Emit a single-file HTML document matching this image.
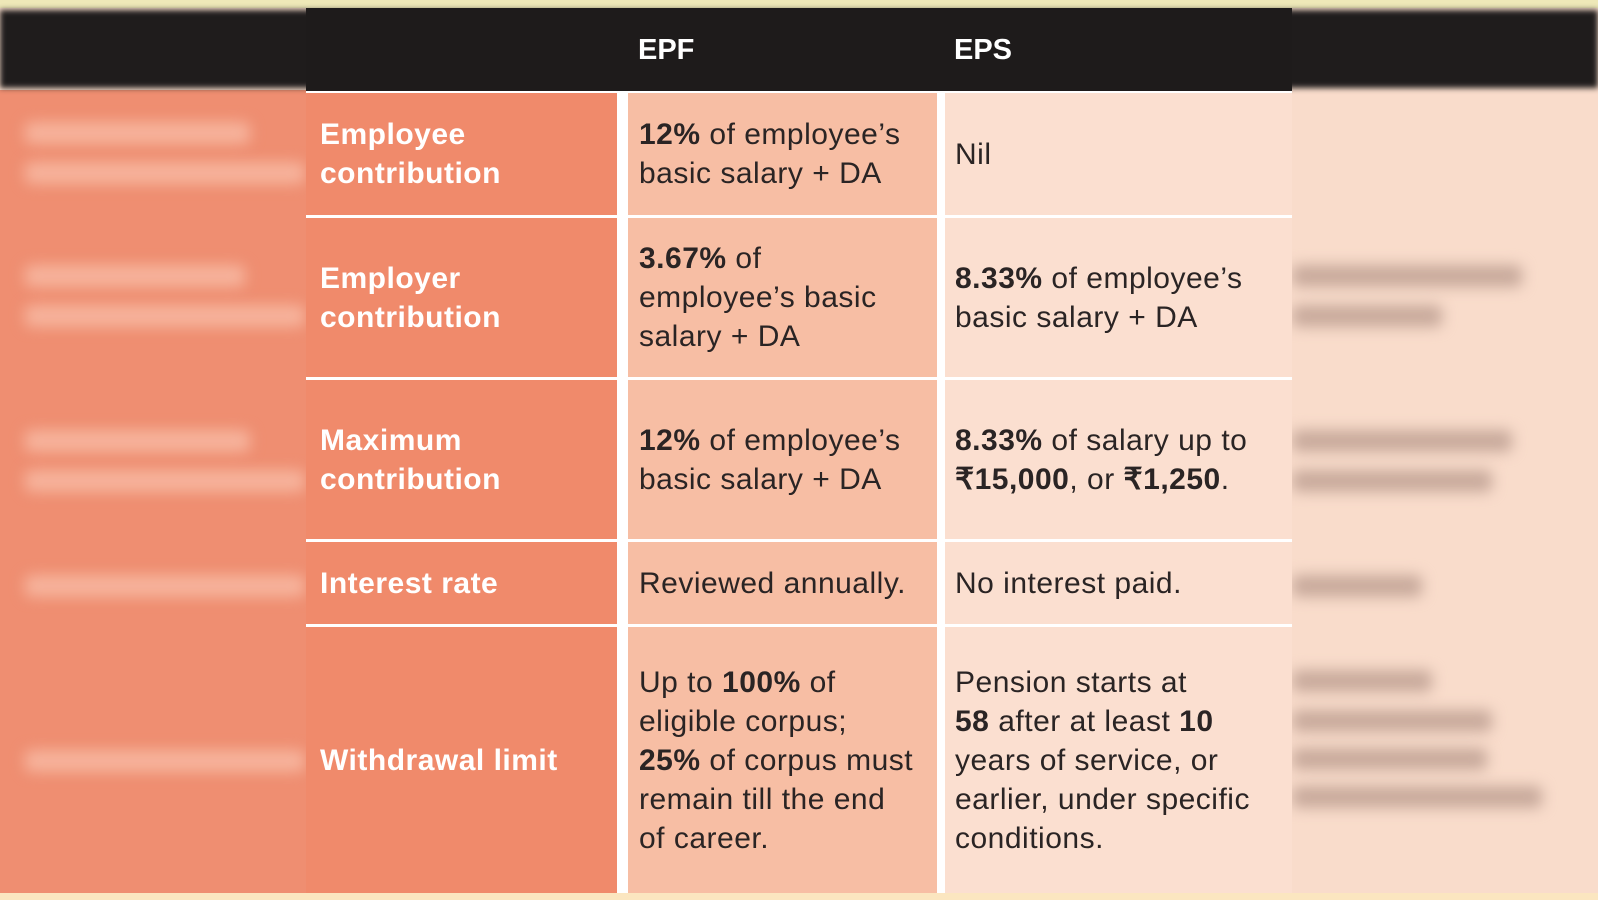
<!DOCTYPE html>
<html><head><meta charset="utf-8">
<style>
*{margin:0;padding:0;box-sizing:border-box}
body{width:1598px;height:900px;overflow:hidden;background:#f7dccb;font-family:"Liberation Sans",sans-serif;position:relative}
.abs{position:absolute}
.cell{position:absolute;display:flex;align-items:center;font-size:30px;line-height:39px;color:#2a2424;letter-spacing:0.5px;white-space:nowrap}
.c1{left:306px;width:311px;background:#f08a6b;color:#fff;font-weight:bold;padding-left:14px}
.c2{left:628px;width:309px;background:#f7bea4;padding-left:11px}
.c3{left:945px;width:347px;background:#fbdfd0;padding-left:10px;padding-right:4px}
.blur{position:absolute;filter:blur(7px);border-radius:6px}
</style></head><body>
<div class="abs" style="left:0;top:0;width:1598px;height:8px;background:#eee8b8"></div>
<div class="abs" style="left:0;top:893px;width:1598px;height:7px;background:#fbe6c0"></div>
<div class="abs" style="left:0;top:90px;width:306px;height:803px;background:#ef8e71"></div>
<div class="abs" style="left:1292px;top:90px;width:306px;height:803px;background:#f9dccb"></div>
<div class="abs" style="left:0;top:10px;width:1598px;height:78px;background:#1f1c1c;filter:blur(3px)"></div>
<div class="blur" style="left:25px;top:122px;width:225px;height:22px;background:#f6b39c"></div>
<div class="blur" style="left:25px;top:162px;width:280px;height:22px;background:#f6b39c"></div>
<div class="blur" style="left:25px;top:265px;width:220px;height:22px;background:#f6b39c"></div>
<div class="blur" style="left:25px;top:305px;width:280px;height:22px;background:#f6b39c"></div>
<div class="blur" style="left:25px;top:430px;width:225px;height:22px;background:#f6b39c"></div>
<div class="blur" style="left:25px;top:470px;width:280px;height:22px;background:#f6b39c"></div>
<div class="blur" style="left:25px;top:575px;width:280px;height:22px;background:#f6b39c"></div>
<div class="blur" style="left:25px;top:750px;width:280px;height:22px;background:#f6b39c"></div>
<div class="blur" style="left:1292px;top:265px;width:230px;height:22px;background:#c8aa9c"></div>
<div class="blur" style="left:1292px;top:305px;width:150px;height:22px;background:#c8aa9c"></div>
<div class="blur" style="left:1292px;top:430px;width:220px;height:22px;background:#c8aa9c"></div>
<div class="blur" style="left:1292px;top:470px;width:200px;height:22px;background:#c8aa9c"></div>
<div class="blur" style="left:1292px;top:575px;width:130px;height:22px;background:#c8aa9c"></div>
<div class="blur" style="left:1292px;top:670px;width:140px;height:22px;background:#c8aa9c"></div>
<div class="blur" style="left:1292px;top:710px;width:200px;height:22px;background:#c8aa9c"></div>
<div class="blur" style="left:1292px;top:748px;width:195px;height:22px;background:#c8aa9c"></div>
<div class="blur" style="left:1292px;top:786px;width:250px;height:22px;background:#c8aa9c"></div>

<div class="abs" style="left:306px;top:8px;width:986px;height:885px;background:#fff"></div>
<div class="abs" style="left:306px;top:8px;width:986px;height:83px;background:#1e1b1b;color:#fff;font-weight:bold;font-size:29px">
  <span class="abs" style="left:332px;top:26px">EPF</span>
  <span class="abs" style="left:648px;top:26px">EPS</span>
</div>

<div class="cell c1" style="top:93px;height:122px">Employee<br>contribution</div>
<div class="cell c2" style="top:93px;height:122px"><div><b>12%</b> of employee’s<br>basic salary + DA</div></div>
<div class="cell c3" style="top:93px;height:122px">Nil</div>

<div class="cell c1" style="top:218px;height:159px">Employer<br>contribution</div>
<div class="cell c2" style="top:218px;height:159px"><div><b>3.67%</b> of<br>employee’s basic<br>salary + DA</div></div>
<div class="cell c3" style="top:218px;height:159px"><div><b>8.33%</b> of employee’s<br>basic salary + DA</div></div>

<div class="cell c1" style="top:380px;height:159px">Maximum<br>contribution</div>
<div class="cell c2" style="top:380px;height:159px"><div><b>12%</b> of employee’s<br>basic salary + DA</div></div>
<div class="cell c3" style="top:380px;height:159px"><div><b>8.33%</b> of salary up to<br><b>₹15,000</b>, or <b>₹1,250</b>.</div></div>

<div class="cell c1" style="top:542px;height:82px">Interest rate</div>
<div class="cell c2" style="top:542px;height:82px">Reviewed annually.</div>
<div class="cell c3" style="top:542px;height:82px">No interest paid.</div>

<div class="cell c1" style="top:627px;height:266px">Withdrawal limit</div>
<div class="cell c2" style="top:627px;height:266px"><div>Up to <b>100%</b> of<br>eligible corpus;<br><b>25%</b> of corpus must<br>remain till the end<br>of career.</div></div>
<div class="cell c3" style="top:627px;height:266px"><div>Pension starts at<br><b>58</b> after at least <b>10</b><br>years of service, or<br>earlier, under specific<br>conditions.</div></div>
</body></html>
